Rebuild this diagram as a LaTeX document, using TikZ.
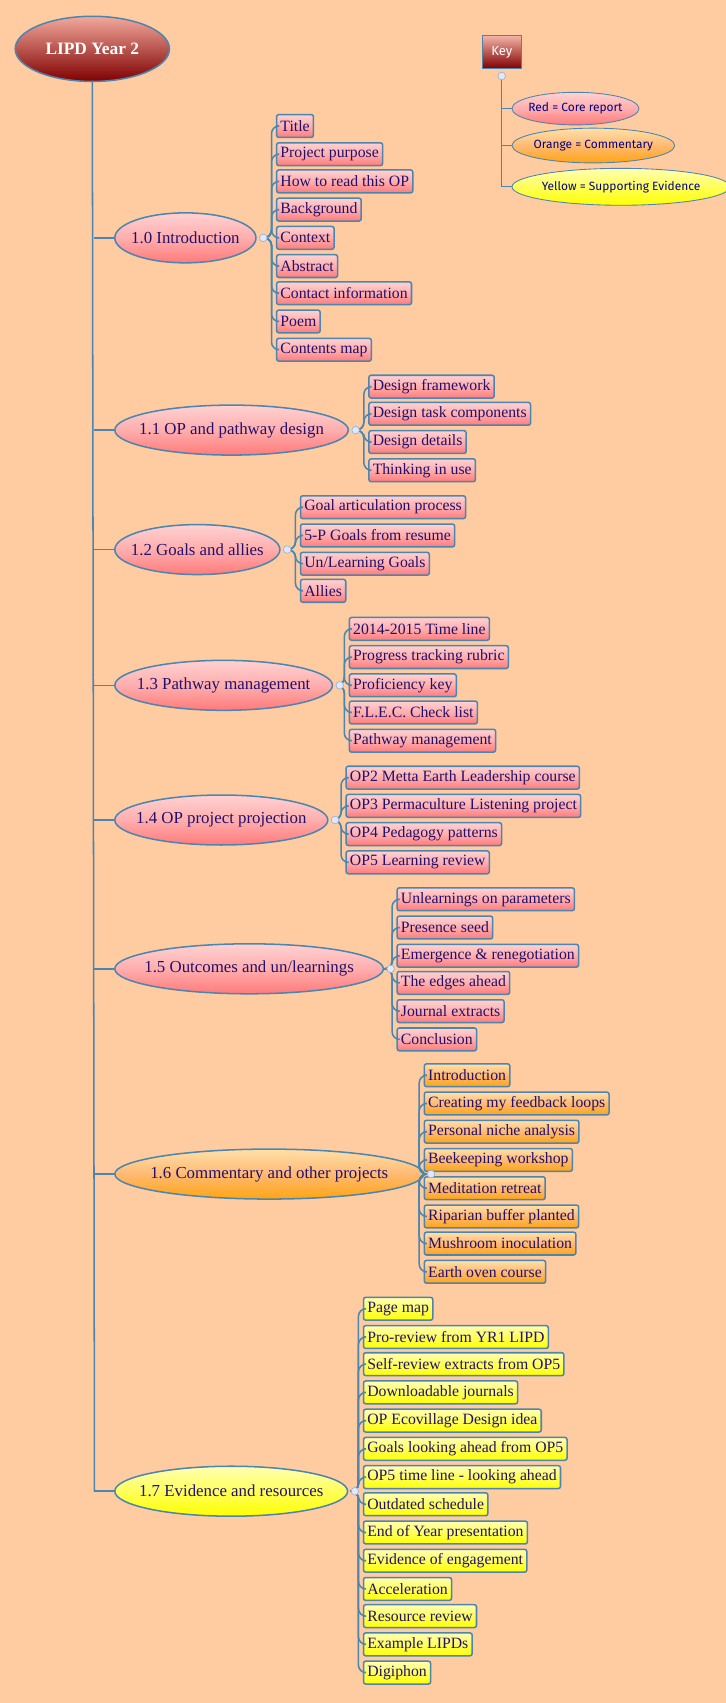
\documentclass[tikz,border=0pt]{standalone}
\usepackage{fontspec}
\setmainfont{Liberation Serif}
\newfontfamily\keyfont{Fira Sans}
\usetikzlibrary{shapes.geometric,calc}
\definecolor{bg}{HTML}{FFCBA0}
\definecolor{edge}{HTML}{4A86B0}
\definecolor{txt}{HTML}{22106A}
\definecolor{otop}{HTML}{FFE0A8}
\definecolor{obot}{HTML}{FFA510}
\tikzset{
  x=1pt,y=-1pt,
  base/.style={draw=edge,line width=1.4pt,text=txt,font=\fontsize{14.5}{16}\selectfont},
  red/.style={top color=red!18!white,bottom color=red!52!white,middle color=red!32!white},
  org/.style={top color=otop,bottom color=obot,middle color=orange!55!white},
  yel/.style={top color=yellow!30!white,bottom color=yellow,middle color=yellow!65!white},
  branch/.style={base,ellipse,inner xsep=-9pt,inner ysep=6pt,minimum height=46pt,anchor=west,font=\fontsize{15.5}{18}\selectfont},
  leaf/.style={base,rectangle,rounded corners=2pt,inner xsep=3.5pt,inner ysep=2pt,minimum height=21pt,anchor=west},
  dot/.style={circle,draw=edge!60,fill=blue!10,inner sep=0pt,minimum size=7pt,line width=0.6pt},
  conn/.style={draw=edge,line width=1.4pt,rounded corners=7pt},
  keyel/.style={ellipse,draw=edge,line width=0.8pt,text=blue!50!black,font=\keyfont\fontsize{11}{13}\selectfont,inner xsep=-2pt},
}
\begin{document}
\begin{tikzpicture}
\fill[bg] (0,0) rectangle (668,1568);
\useasboundingbox (0,0) rectangle (668,1568);
\node[ellipse,draw=edge,line width=1.4pt,top color=red!30!white!80!brown,bottom color=red!50!black,minimum width=142pt,minimum height=60pt,text=white,font=\bfseries\fontsize{16}{18}\selectfont] (root) at (85,45) {LIPD Year 2};
\coordinate (trunkend) at (87,1373);
\draw[conn,rounded corners=0pt] (root.south) -- (trunkend);
\newcommand\mkbranch[5]{% name, width, y, text, style
  \node[branch,#5,minimum width=#2pt] (#1) at (105,#3) {#4};
  \coordinate (#1t) at (87,#3);
  \draw[conn] (#1t) -- (#1.west);
  \coordinate (#1d) at ($(#1.east)+(6,0)$);
}
\newcommand\mkleaves[4]{%
  \foreach \yy/\tt [count=\i] in {#4}{
    \node[leaf,#3] (#1l\i) at (#2,\yy) {\tt};
    \draw[conn] (#1d) -| ($(#1l\i.west)+(-4,0)$) -- (#1l\i.west);
  }
  \node[dot] (#1dot) at (#1d) {};
}
\mkbranch{b0}{130}{219}{1.0 Introduction}{red}
\mkleaves{b0}{254}{red}{116/Title,142/Project purpose,167/How to read this OP,193/Background,219/Context,245/Abstract,270/Contact information,296/Poem,322/Contents map}
\mkbranch{b1}{214}{396}{1.1 OP and pathway design}{red}
\mkleaves{b1}{339}{red}{356/Design framework,381/Design task components,407/Design details,433/Thinking in use}
\mkbranch{b2}{152}{506}{1.2 Goals and allies}{red}
\mkleaves{b2}{276}{red}{467/Goal articulation process,493/5-P Goals from resume,519/{Un/Learning Goals},544/Allies}
\mkbranch{b3}{196}{631}{1.3 Pathway management}{red}
\mkleaves{b3}{321}{red}{579/2014-2015 Time line,605/Progress tracking rubric,631/Proficiency key,656/F.L.E.C. Check list,682/Pathway management}
\mkbranch{b4}{192}{755}{1.4 OP project projection}{red}
\mkleaves{b4}{318}{red}{716/OP2 Metta Earth Leadership course,742/OP3 Permaculture Listening project,768/OP4 Pedagogy patterns,794/OP5 Learning review}
\mkbranch{b5}{242}{892}{1.5 Outcomes and un/learnings}{red}
\mkleaves{b5}{365}{red}{828/Unlearnings on parameters,854/Presence seed,880/Emergence \& renegotiation,905/The edges ahead,931/Journal extracts,957/Conclusion}
\mkbranch{b6}{266}{1081}{1.6 Commentary and other projects}{org}
\mkleaves{b6}{390}{org}{990/Introduction,1016/Creating my feedback loops,1042/Personal niche analysis,1068/Beekeeping workshop,1094/Meditation retreat,1120/Riparian buffer planted,1145/Mushroom inoculation,1171/Earth oven course}
\mkbranch{b7}{210}{1373}{1.7 Evidence and resources}{yel}
\mkleaves{b7}{334}{yel}{1205/Page map,1231/Pro-review from YR1 LIPD,1256/Self-review extracts from OP5,1282/Downloadable journals,1308/OP Ecovillage Design idea,1334/Goals looking ahead from OP5,1360/OP5 time line - looking ahead,1385/Outdated schedule,1411/End of Year presentation,1437/Evidence of engagement,1463/Acceleration,1488/Resource review,1514/Example LIPDs,1540/Digiphon}
\node[rectangle,draw=edge,line width=0.8pt,top color=red!25!white!80!brown,bottom color=red!50!black,minimum width=36pt,minimum height=30pt,text=white,font=\keyfont\fontsize{12}{14}\selectfont] (key) at (462,48) {Key};
\node[keyel,red,minimum width=112pt,minimum height=30pt,anchor=west] (k1) at (471,100) {Red = Core report};
\node[keyel,org,minimum width=138pt,minimum height=32pt,anchor=west] (k2) at (471,134) {Orange = Commentary};
\node[keyel,yel,minimum width=180pt,minimum height=34pt,anchor=west] (k3) at (471,172) {Yellow = Supporting Evidence};
\coordinate (keyc) at (462,70);
\foreach \k in {k1,k2,k3}{\draw[draw=edge,line width=0.8pt] (keyc) |- (\k.west);}
\node[dot] (keyd) at (keyc) {};
\end{tikzpicture}
\end{document}
